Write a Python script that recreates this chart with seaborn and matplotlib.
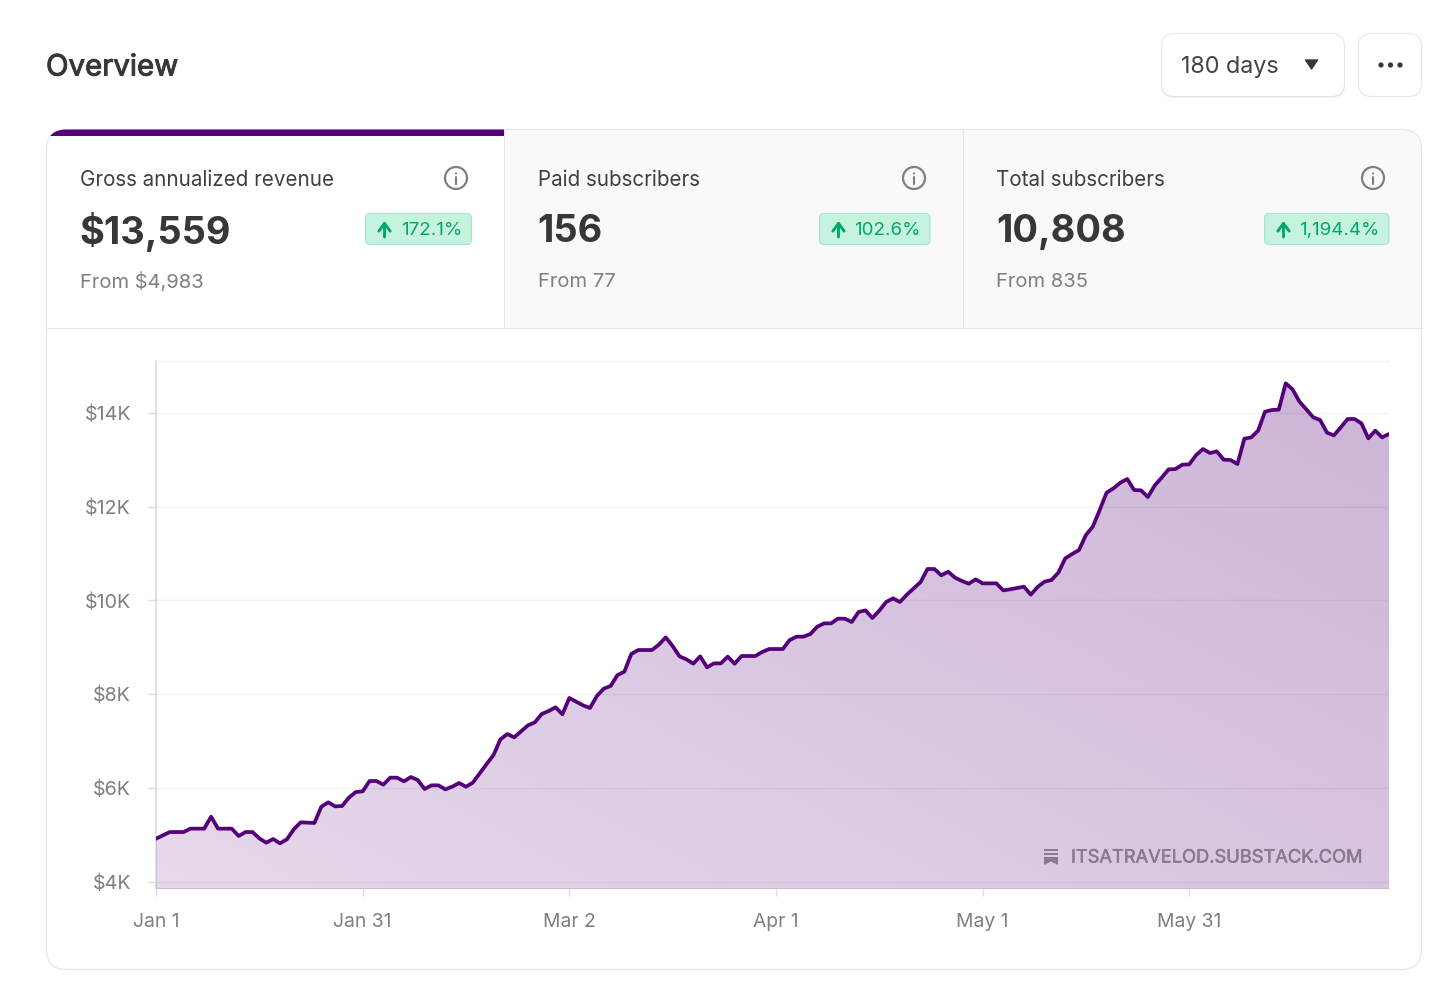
import numpy as np
import pandas as pd
import matplotlib.pyplot as plt
import matplotlib.patheffects as pe
import seaborn as sns
from matplotlib.patches import Circle, FancyBboxPatch, Polygon, Rectangle

# daily gross annualized revenue
revenue = [
    4914, 4985, 5056, 5056, 5056, 5128, 5128, 5128, 5384, 5128,
    5128, 5128, 4971, 5056, 5056, 4921, 4829, 4907, 4815, 4900,
    5113, 5263, 5256, 5249, 5597, 5690, 5604, 5611, 5789, 5910,
    5924, 6145, 6145, 6067, 6216, 6216, 6138, 6230, 6166, 5974,
    6053, 6053, 5967, 6024, 6102, 6024, 6110, 6309, 6508, 6700,
    7034, 7148, 7077, 7205, 7333, 7397, 7575, 7639, 7718, 7568,
    7917, 7838, 7760, 7703, 7959, 8116, 8173, 8408, 8479, 8856,
    8941, 8941, 8941, 9055, 9211, 9026, 8806, 8742, 8649, 8806,
    8571, 8656, 8656, 8799, 8649, 8813, 8813, 8813, 8898, 8962,
    8962, 8962, 9155, 9226, 9226, 9283, 9439, 9510, 9510, 9610,
    9610, 9539, 9752, 9788, 9624, 9781, 9966, 10044, 9966, 10122,
    10257, 10392, 10670, 10670, 10535, 10613, 10485, 10414, 10357, 10449,
    10364, 10364, 10364, 10215, 10236, 10264, 10293, 10122, 10290, 10400,
    10435, 10592, 10897, 10990, 11075, 11396, 11574, 11929, 12299, 12392,
    12513, 12591, 12356, 12349, 12207, 12456, 12619, 12797, 12804, 12897,
    12904, 13103, 13231, 13146, 13181, 13004, 12996, 12911, 13452, 13480,
    13623, 14028, 14064, 14071, 14633, 14505, 14242, 14078, 13907, 13850,
    13580, 13523, 13694, 13872, 13872, 13779, 13459, 13623, 13480, 13552,
]
dates = pd.date_range("2023-01-01", periods=len(revenue), freq="D")

y_ticks = [4000, 6000, 8000, 10000, 12000, 14000]
y_labels = ["$4K", "$6K", "$8K", "$10K", "$12K", "$14K"]
x_ticks = ["2023-01-01", "2023-01-31", "2023-03-02", "2023-04-01", "2023-05-01", "2023-05-31"]
x_labels = ["Jan 1", "Jan 31", "Mar 2", "Apr 1", "May 1", "May 31"]

tab_names = ["Gross annualized revenue", "Paid subscribers", "Total subscribers"]
tab_values = ["$13,559", "156", "10,808"]
tab_from = ["From $4,983", "From 77", "From 835"]
tab_change = ["172.1%", "102.6%", "1,194.4%"]

W, H = 1446, 988
PURPLE = "#55007a"
DARK = "#363737"
GREY = "#7f7f7f"
LINE = "#e6e6e6"
GREEN = "#00a866"

sns.set_theme(style="white")
plt.rcParams["font.family"] = ["Inter", "DejaVu Sans"]

fig = plt.figure(figsize=(W / 100, H / 100), dpi=100, facecolor="white")

# page furniture is drawn in pixel coordinates on a full-figure axes
ui = fig.add_axes([0, 0, 1, 1], zorder=0)
ui.set_xlim(0, W)
ui.set_ylim(H, 0)
ui.axis("off")


def rbox(x0, y0, x1, y1, r, **kw):
    p = FancyBboxPatch((x0 + r, y0 + r), x1 - x0 - 2 * r, y1 - y0 - 2 * r,
                       boxstyle=f"round,pad={r},rounding_size={r}", **kw)
    ui.add_patch(p)
    return p


def label(x, y, s, size, color=DARK, weight="normal", ha="left"):
    return ui.text(x, y, s, fontsize=size, color=color, fontweight=weight, ha=ha, va="center")


head = label(46, 68, "Overview", 21.2, DARK)
head.set_path_effects([pe.withStroke(linewidth=0.7, foreground=DARK)])

# dropdown and menu buttons, with a soft shadow
rbox(1161, 35, 1345, 98, 13, fc="#f0f0f0", ec="none")
rbox(1161.5, 33.5, 1344.5, 96.5, 13, fc="white", ec=LINE, lw=0.8)
rbox(1358.5, 33.5, 1421.5, 96.5, 13, fc="white", ec=LINE, lw=0.8)
label(1181, 66.5, "180 days", 16.8, "#444444")
ui.add_patch(Polygon([(1305.5, 60), (1317.5, 60), (1311.5, 69)], closed=True, fc=DARK, ec=DARK, lw=1, joinstyle="round"))
for cx in (1381, 1390.5, 1400):
    ui.add_patch(Circle((cx, 65), 2.6, fc=DARK, ec="none"))

# the card, the three tabs and the purple marker on the active one
card = rbox(46.5, 129.5, 1421.5, 969.5, 20, fc="white", ec="none", zorder=1)
shade = Rectangle((504, 129.5), 917.5, 199, fc="#f9f9f9", ec="none", zorder=1.1)
ui.add_patch(shade)
shade.set_clip_path(card)
marker = Rectangle((46.5, 129.5), 457.5, 6.5, fc=PURPLE, ec="none", zorder=1.3)
ui.add_patch(marker)
marker.set_clip_path(card)
ui.plot([46.5, 1421.5], [328.5, 328.5], color=LINE, lw=0.75, zorder=1.2)
for vx in (504, 963):
    ui.plot([vx, vx], [129.5, 328.5], color=LINE, lw=0.75, zorder=1.2)
rbox(46.5, 129.5, 1421.5, 969.5, 20, fc="none", ec=LINE, lw=0.85, zorder=1.2)

text_x = [79.5, 537.5, 996]
icon_x = [456, 914, 1373]
badge_x = [(365.5, 471.5), (819.5, 930), (1264.5, 1389)]
for i in range(3):
    label(text_x[i], 180.5, tab_names[i], 14.85, "#404040").set_zorder(2)
    big = label(text_x[i], 232, tab_values[i], 27.3, DARK, "bold")
    big.set_zorder(2)
    label(text_x[i], 282, tab_from[i], 14.5, GREY).set_zorder(2)
    ui.add_patch(Circle((icon_x[i], 178), 11, fc="none", ec=GREY, lw=1.6, zorder=2))
    ui.add_patch(Circle((icon_x[i], 173.5), 1.1, fc=GREY, ec="none", zorder=2))
    ui.plot([icon_x[i], icon_x[i]], [177, 184], color=GREY, lw=1.5, zorder=2)
    x0, x1 = badge_x[i]
    rbox(x0, 213.5, x1, 244.5, 4.5, fc="#c6f2e0", ec="#a6e8cd", lw=0.8, zorder=2)
    ax_ = x0 + 19
    ui.annotate("", xy=(ax_, 221), xytext=(ax_, 237), zorder=3,
                arrowprops=dict(arrowstyle="->,head_width=0.34,head_length=0.46", color=GREEN, lw=2.1,
                                shrinkA=0, shrinkB=0))
    label(x1 - 9.5, 230, tab_change[i], 13.5, GREEN, ha="right").set_zorder(3)

# the chart itself
left, right, top, bottom = 156, 1389, 361, 889
ax = fig.add_axes([left / W, 1 - bottom / H, (right - left) / W, (bottom - top) / H], zorder=2)
ax.patch.set_alpha(0)

df = pd.DataFrame({"date": dates, "revenue": revenue})
sns.lineplot(data=df, x="date", y="revenue", color=PURPLE, linewidth=2.7, ax=ax, zorder=4,
             solid_joinstyle="round", solid_capstyle="round")

ymin, ymax = 3840, 15110
ax.set_xlim(dates[0], dates[-1])
ax.set_ylim(ymin, ymax)

# diagonal gradient fill under the line
gx, gy = np.meshgrid(np.linspace(0, 1, 200), np.linspace(0, 1, 200))
rgba = np.zeros((200, 200, 4))
rgba[..., :3] = plt.matplotlib.colors.to_rgb(PURPLE)
rgba[..., 3] = 0.15 + 0.15 * (0.55 * gx + 0.45 * gy)
area = ax.fill_between(df["date"], df["revenue"], ymin, facecolor="none", edgecolor="none")
im = ax.imshow(rgba, extent=(0, 1, 0, 1), origin="lower", transform=ax.transAxes, aspect="auto", zorder=3)
im.set_clip_path(area.get_paths()[0], transform=ax.transData)
ax.set_xlim(dates[0], dates[-1])
ax.set_ylim(ymin, ymax)
ax.plot([dates[0], dates[-1]], [ymin, ymin], color="#cdb9d7", lw=2.2, zorder=3.5)

ax.set_xlabel("")
ax.set_ylabel("")
ax.set_yticks(y_ticks, y_labels)
ax.set_xticks(pd.to_datetime(x_ticks), x_labels)
ax.grid(axis="y", color="#f2f2f2", lw=1.0)
ax.set_axisbelow(True)
ax.tick_params(axis="x", length=5, width=1, color="#dcdcdc", labelcolor=GREY, labelsize=13.9, pad=12, bottom=True)
ax.tick_params(axis="y", length=6, width=1, color="#dcdcdc", labelcolor=GREY, labelsize=14.2, pad=12, left=True)
ax.spines["right"].set_visible(False)
ax.spines["top"].set(color="#f2f2f2", lw=1.0)
ax.spines["left"].set(color="#dcdcdc", lw=1.2)
ax.spines["bottom"].set_visible(False)

# watermark
book = "#8a7a90"
mark = ax.text(1071, 858, "ITSATRAVELOD.SUBSTACK.COM", transform=ui.transData, fontsize=13.15, color=book,
               ha="left", va="center", zorder=5)
mark.set_path_effects([pe.withStroke(linewidth=0.4, foreground=book)])
for yb in (849, 853):
    ax.add_patch(Rectangle((1044, yb), 14, 2.2, fc=book, ec="none", transform=ui.transData, zorder=5))
ax.add_patch(Polygon([(1044, 857), (1058, 857), (1058, 865), (1051, 861.5), (1044, 865)], closed=True,
                     fc=book, ec="none", transform=ui.transData, zorder=5))

fig.savefig("out.png", dpi=100)
